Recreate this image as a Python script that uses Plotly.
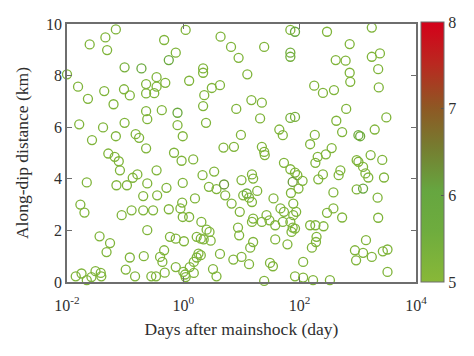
import plotly.graph_objects as go

# log10(days after mainshock) and along-dip distance (km)
log_days = [
    -2.00, -1.16, -1.61, -1.34, -1.31, -1.81, -1.64, -1.36, -1.20, -1.02,
    -0.92, -1.01, -0.72, -0.33, -0.13, -0.25, 0.04, -0.46, -0.64, -0.31,
    -0.46, -0.64, -0.50, 0.10, -0.64, -0.62, -0.37, -0.10, -0.10, -0.01,
    0.34, 0.34, 0.49, 0.36, 0.34, 0.39, 0.64, -1.79, -1.38, -1.01,
    -1.16, -1.57, -0.82, -0.76, 0.63, 0.82, 0.95, 1.39, 1.10, 1.84,
    1.92, 1.84, 1.84, 2.47, 2.86, 3.24, 2.62, 2.79, 2.86, 2.87,
    3.24, 3.38, 3.35, 3.36, 2.25, 2.40, 2.59, 1.17, 1.35, 0.91,
    1.32, 1.84, 1.92, 2.80, 2.63, 1.65, 1.71, 2.26, 2.73, 3.01,
    3.04, 3.29, 0.99, 3.49,
    -1.29, -1.18, -1.11, -1.09, -1.66, -1.15, -0.97, -0.87, -0.79, -0.62,
    -0.46, -0.64, -0.16, -0.03, 0.17, -0.01, -0.29, -0.45, -0.69, -0.02,
    -0.05, 0.20, 0.33, 0.53, 0.44, 0.57, 0.70, 0.72, 0.69, 0.87,
    1.35, 1.39, 1.40, 2.18, 2.55, 2.45, 2.31, 2.27, 2.98, 3.01,
    3.22, 3.09, 3.13, 3.18, 2.98, 3.09, 3.34, 2.58, 2.70, 2.67,
    2.40, 2.32, 1.73, 1.84, 1.92, 1.96, 2.05, 1.88, 1.98, 1.85,
    1.00, 1.18, 1.20, 1.27, 1.03, 1.09, 1.13, 1.18, 3.42, 3.45,
    -1.77, -1.70, -1.06, -0.89, -0.69, -0.52, -0.25, -0.01, 0.10, 0.31,
    0.40, 0.45, -0.62, -1.44, -1.26, -1.32, -0.23, -0.13, 0.01, 0.23,
    0.30, 0.35, 0.47, -0.33, -0.40, -0.36, -0.32, -0.92, -0.68, -0.99,
    -0.83, -0.55, -0.47, -0.13, 0.00, 0.03, 0.04, 0.11, 0.18, 0.23,
    0.26, 0.30, 0.18, 0.51, 0.57, 0.63, -1.85, -1.75, -1.66, -1.58,
    -1.51, -1.42, -1.41, 0.83, 0.97, 1.55, 1.67, 1.73, 1.89, 1.94,
    1.89, 1.43, 1.48, 1.58, 1.20, 1.18, 1.35, 0.94, 0.96, 1.71,
    1.84, 1.88, 1.86, 1.92, 1.58, 1.79, 1.20, 1.15, 2.18, 2.27,
    2.41, 2.47, 2.58, 2.73, 2.29, 2.28, 2.21, 0.86, 1.00, 1.13,
    1.49, 1.54, 2.06, 1.39, 1.92, 2.06, 2.23, 2.52, 2.95, 3.09,
    2.97, 3.24, 3.14, 3.35, 3.43, 3.51, 3.51,
]
distance_km = [
    8.05, 9.79, 9.21, 9.48, 8.99, 7.57, 7.10, 7.40, 6.89, 7.47,
    7.23, 8.32, 8.28, 9.38, 8.89, 8.60, 9.77, 7.94, 7.67, 7.72,
    7.57, 7.31, 7.32, 7.80, 6.62, 6.31, 6.66, 6.56, 6.08, 5.65,
    8.28, 8.11, 7.52, 7.24, 6.82, 6.17, 9.51, 6.11, 5.99, 6.17,
    5.65, 5.50, 5.73, 5.59, 7.63, 9.11, 8.69, 9.11, 8.05, 9.77,
    9.70, 8.89, 8.73, 9.70, 9.22, 9.86, 8.60, 8.58, 8.11, 7.76,
    8.73, 8.86, 8.25, 7.54, 7.61, 7.33, 7.44, 7.05, 6.95, 6.71,
    6.34, 6.36, 6.40, 6.71, 6.25, 5.91, 5.69, 5.70, 5.81, 5.69,
    5.65, 5.91, 5.70, 6.38,
    4.98, 4.85, 4.68, 4.33, 3.86, 3.75, 3.75, 4.04, 4.17, 3.82,
    4.33, 5.18, 5.01, 4.70, 4.75, 3.84, 3.65, 3.36, 3.33, 3.08,
    2.85, 3.24, 4.14, 4.28, 3.69, 3.60, 3.78, 3.36, 5.21, 5.24,
    5.24, 5.04, 4.92, 5.34, 5.19, 4.95, 4.85, 4.62, 4.72, 4.66,
    4.92, 4.46, 4.21, 4.05, 3.59, 3.62, 3.27, 3.47, 4.33, 4.14,
    4.17, 3.98, 4.62, 4.37, 4.24, 4.14, 3.92, 3.88, 3.62, 3.45,
    3.95, 4.17, 4.01, 3.53, 3.36, 3.43, 3.27, 3.10, 4.73, 4.05,
    3.00, 2.69, 2.59, 2.78, 2.78, 2.78, 2.82, 2.52, 2.52, 2.33,
    2.03, 1.94, 2.01, 1.77, 1.51, 1.16, 1.75, 1.68, 1.58, 1.75,
    1.68, 1.65, 1.60, 1.23, 0.97, 0.78, 0.36, 0.95, 1.00, 0.48,
    0.22, 0.22, 0.22, 0.58, 0.39, 0.29, 0.19, 0.58, 0.78, 0.95,
    1.10, 1.04, 0.35, 0.50, 0.22, 1.09, 0.22, 0.33, 0.07, 0.19,
    0.42, 0.35, 0.22, 3.04, 2.72, 3.24, 2.85, 2.72, 3.04, 2.72,
    2.59, 2.59, 2.39, 2.20, 2.46, 2.33, 2.33, 2.11, 1.81, 2.33,
    2.33, 2.11, 1.94, 2.07, 1.65, 1.46, 1.55, 1.33, 2.20, 2.20,
    2.16, 2.68, 2.85, 2.50, 1.75, 1.55, 1.33, 0.87, 0.97, 0.69,
    0.74, 0.61, 0.78, 0.04, 0.22, 0.17, 0.07, 0.07, 1.23, 1.13,
    0.84, 0.97, 1.62, 2.49, 1.19, 1.26, 0.39,
]
magnitude = [
    5.2, 5.2, 5.2, 5.2, 5.2, 5.2, 5.2, 5.2, 5.2, 5.2,
    5.2, 5.4, 5.8, 5.2, 5.2, 5.8, 5.2, 5.2, 5.2, 5.2,
    5.2, 5.2, 5.2, 5.2, 5.2, 5.2, 5.2, 5.8, 5.2, 5.2,
    5.2, 5.2, 5.2, 5.2, 5.2, 5.2, 5.2, 5.2, 5.2, 5.2,
    5.2, 5.2, 5.2, 5.2, 5.2, 5.2, 5.2, 5.2, 5.2, 5.2,
    6.0, 5.5, 5.5, 5.2, 5.2, 5.2, 5.2, 5.2, 5.2, 5.2,
    5.2, 5.2, 5.2, 5.2, 5.2, 5.2, 5.2, 5.2, 5.2, 5.2,
    5.2, 5.4, 5.4, 5.2, 5.2, 5.2, 5.2, 5.2, 5.2, 5.6,
    5.6, 5.2, 5.2, 5.2,
    5.2, 5.2, 5.2, 5.2, 5.2, 5.2, 5.2, 5.2, 5.2, 5.2,
    5.2, 5.2, 5.2, 5.2, 5.2, 5.2, 5.2, 5.2, 5.2, 5.2,
    5.2, 5.2, 5.2, 5.2, 5.2, 5.2, 6.2, 5.2, 5.2, 5.2,
    5.2, 5.2, 5.2, 5.2, 5.2, 5.2, 5.2, 5.2, 5.2, 5.2,
    5.2, 5.2, 5.2, 5.2, 5.2, 6.0, 5.2, 5.2, 5.2, 5.2,
    5.2, 5.2, 5.2, 5.2, 5.2, 5.2, 5.2, 6.2, 5.2, 5.2,
    5.2, 5.2, 5.2, 5.2, 5.2, 5.6, 5.2, 5.2, 5.2, 5.2,
    5.2, 5.2, 5.2, 5.2, 5.2, 5.2, 5.2, 5.2, 5.2, 5.2,
    5.2, 5.2, 5.2, 5.2, 5.2, 5.2, 5.2, 5.2, 5.2, 5.2,
    5.2, 5.2, 5.2, 5.2, 5.2, 5.2, 5.2, 5.2, 5.2, 5.2,
    5.2, 5.2, 5.2, 5.2, 5.2, 5.2, 5.2, 5.2, 5.2, 5.2,
    5.2, 5.2, 5.2, 5.2, 5.2, 5.2, 5.2, 5.2, 5.2, 5.2,
    5.2, 5.2, 5.2, 5.2, 5.2, 5.2, 5.2, 5.2, 5.2, 5.2,
    5.2, 5.2, 5.2, 5.2, 5.2, 5.2, 5.2, 5.2, 5.2, 5.2,
    5.2, 5.2, 5.2, 5.2, 5.2, 5.2, 5.2, 5.2, 5.2, 5.2,
    5.2, 5.2, 5.2, 5.2, 5.2, 5.2, 5.2, 5.2, 5.2, 5.2,
    5.2, 5.2, 5.2, 5.2, 5.2, 5.2, 5.2, 5.2, 5.2, 5.2,
    5.2, 5.2, 5.2, 5.2, 5.2, 5.2, 5.2,
]

x_tickvals = [0.01, 1, 100, 10000]
x_ticktext = ["10<sup>-2</sup>", "10<sup>0</sup>", "10<sup>2</sup>", "10<sup>4</sup>"]
y_tickvals = [0, 2, 4, 6, 8, 10]
cbar_ticks = [5, 6, 7, 8]

days = [10 ** v for v in log_days]

FONT = "Liberation Serif"
AXC = "#6e6e6e"
TXT = "#2f2f2f"

colorscale = [
    [0.0, "rgb(136,184,56)"],
    [0.2, "rgb(110,172,62)"],
    [0.35, "rgb(102,166,64)"],
    [0.52, "rgb(118,124,48)"],
    [0.67, "rgb(142,88,36)"],
    [0.84, "rgb(186,40,32)"],
    [1.0, "rgb(212,0,26)"],
]

fig = go.Figure(go.Scatter(
    x=days, y=distance_km, mode="markers", cliponaxis=False,
    marker=dict(
        symbol="circle-open", size=9, line=dict(width=1.3),
        color=magnitude, colorscale=colorscale, cmin=5, cmax=8,
        colorbar=dict(
            thickness=23, lenmode="pixels", len=260,
            x=1.0143, xanchor="left", xpad=0,
            y=0, yanchor="bottom", ypad=0,
            outlinecolor=AXC, outlinewidth=1,
            tickvals=cbar_ticks, ticks="inside", ticklen=3, tickcolor="#555",
            tickfont=dict(family=FONT, size=16, color=TXT),
        ),
    ),
    showlegend=False,
))

fig.update_layout(
    width=474, height=356,
    margin=dict(l=67, r=58, t=24, b=74),
    paper_bgcolor="white", plot_bgcolor="white",
    font=dict(family=FONT, size=16, color=TXT),
)
fig.update_xaxes(
    type="log", range=[-2, 4], tickvals=x_tickvals, ticktext=x_ticktext,
    showgrid=False, zeroline=False, showline=True, linecolor=AXC, linewidth=1.5,
    mirror="ticks", ticks="inside", ticklen=5, tickcolor=AXC,
    ticklabelstandoff=8,
    tickfont=dict(family=FONT, size=16, color=TXT),
    title=dict(text="Days after mainshock (day)", font=dict(family=FONT, size=17.5, color=TXT), standoff=10),
)
fig.update_yaxes(
    range=[0, 10], tickvals=y_tickvals,
    showgrid=False, zeroline=False, showline=True, linecolor=AXC, linewidth=1.5,
    mirror="ticks", ticks="inside", ticklen=5, tickcolor=AXC,
    tickfont=dict(family=FONT, size=16, color=TXT),
    title=dict(text="Along-dip distance (km)", font=dict(family=FONT, size=17.5, color=TXT), standoff=13),
)

fig.write_html("out.html", config={"displayModeBar": False},
               post_script="document.body.style.margin='0';")
